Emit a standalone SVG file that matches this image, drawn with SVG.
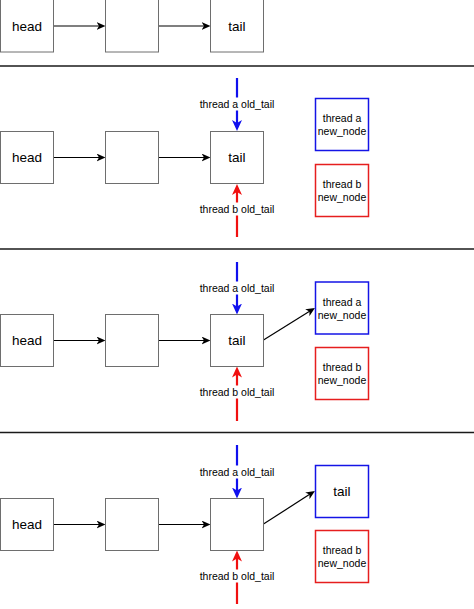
<svg xmlns="http://www.w3.org/2000/svg" width="474" height="609" viewBox="0 0 474 609">
<defs>
<style>
.box{fill:#fff;stroke:#6e6e6e;stroke-width:1}
.bbox{fill:#fff;stroke:#1414e6;stroke-width:1.5}
.rbox{fill:#fff;stroke:#e61e1e;stroke-width:1.5}
.sep{stroke:#1a1a1a;stroke-width:1.6}
.lk{stroke:#000;stroke-width:1.2;fill:none}
.lb{stroke:#1010ee;stroke-width:2.2;fill:none}
.lr{stroke:#f01010;stroke-width:2.2;fill:none}
.t{font-family:"Liberation Sans",Arial,sans-serif;font-size:13.5px;fill:#000;text-anchor:middle}
.s{font-family:"Liberation Sans",Arial,sans-serif;font-size:10.5px;fill:#000;text-anchor:middle}
.bg{fill:#fff}
</style>
<marker id="ak" markerUnits="userSpaceOnUse" markerWidth="10" markerHeight="8" refX="6" refY="4" orient="auto" viewBox="0 0 10 8">
<path d="M0,0 L9,4 L0,8 L2.5,4 z" fill="#000"/>
</marker>
<marker id="ab" markerUnits="userSpaceOnUse" markerWidth="11" markerHeight="10" refX="7" refY="5" orient="auto" viewBox="0 0 11 10">
<path d="M0,0 L11,5 L0,10 L3,5 z" fill="#1010ee"/>
</marker>
<marker id="ar" markerUnits="userSpaceOnUse" markerWidth="11" markerHeight="10" refX="7" refY="5" orient="auto" viewBox="0 0 11 10">
<path d="M0,0 L11,5 L0,10 L3,5 z" fill="#f01010"/>
</marker>
</defs>
<rect width="474" height="609" fill="#fff"/>

<g id="separators">
<line class="sep" x1="0" y1="66" x2="474" y2="66"/>
<line class="sep" x1="0" y1="249" x2="474" y2="249"/>
<line class="sep" x1="0" y1="432.5" x2="474" y2="432.5"/>
</g>

<g id="connectors">
<line class="lk" x1="53.5" y1="26" x2="102.5" y2="26" marker-end="url(#ak)"/>
<line class="lk" x1="158.5" y1="26" x2="207.5" y2="26" marker-end="url(#ak)"/>
<line class="lk" x1="53.5" y1="157.5" x2="102.5" y2="157.5" marker-end="url(#ak)"/>
<line class="lk" x1="158.5" y1="157.5" x2="207.5" y2="157.5" marker-end="url(#ak)"/>
<line class="lb" x1="237" y1="78" x2="237" y2="127" marker-end="url(#ab)"/>
<line class="lr" x1="237" y1="237" x2="237" y2="188" marker-end="url(#ar)"/>
<line class="lk" x1="53.5" y1="340.5" x2="102.5" y2="340.5" marker-end="url(#ak)"/>
<line class="lk" x1="158.5" y1="340.5" x2="207.5" y2="340.5" marker-end="url(#ak)"/>
<line class="lb" x1="237" y1="262" x2="237" y2="310.5" marker-end="url(#ab)"/>
<line class="lr" x1="237" y1="421" x2="237" y2="370.5" marker-end="url(#ar)"/>
<line class="lk" x1="263.5" y1="340" x2="312.4" y2="309.6" marker-end="url(#ak)"/>
<line class="lk" x1="53.5" y1="524.5" x2="102.5" y2="524.5" marker-end="url(#ak)"/>
<line class="lk" x1="158.5" y1="524.5" x2="207.5" y2="524.5" marker-end="url(#ak)"/>
<line class="lb" x1="237" y1="445" x2="237" y2="494.5" marker-end="url(#ab)"/>
<line class="lr" x1="237" y1="604" x2="237" y2="554.5" marker-end="url(#ar)"/>
<line class="lk" x1="263.5" y1="524" x2="312.4" y2="492.6" marker-end="url(#ak)"/>
</g>

<g id="labels">
<rect class="bg" x="196" y="97.5" width="82" height="13"/>
<text class="s" x="237" y="107.8">thread a old_tail</text>
<rect class="bg" x="196" y="202.5" width="82" height="13"/>
<text class="s" x="237" y="212.8">thread b old_tail</text>
<rect class="bg" x="196" y="281.5" width="82" height="13"/>
<text class="s" x="237" y="291.8">thread a old_tail</text>
<rect class="bg" x="196" y="385.5" width="82" height="13"/>
<text class="s" x="237" y="395.8">thread b old_tail</text>
<rect class="bg" x="196" y="465.5" width="82" height="13"/>
<text class="s" x="237" y="475.8">thread a old_tail</text>
<rect class="bg" x="196" y="569.5" width="82" height="13"/>
<text class="s" x="237" y="579.8">thread b old_tail</text>
</g>

<g id="s1-head"><rect class="box" x="0.5" y="-1" width="53" height="53"/><text class="t" x="27" y="30.5">head</text></g>
<g id="s1-mid"><rect class="box" x="105.5" y="-1" width="53" height="53"/></g>
<g id="s1-tail"><rect class="box" x="210.5" y="-1" width="53" height="53"/><text class="t" x="237" y="30.5">tail</text></g>

<g id="s2-head"><rect class="box" x="0.5" y="131.5" width="53" height="52"/><text class="t" x="27" y="162">head</text></g>
<g id="s2-mid"><rect class="box" x="105.5" y="131.5" width="53" height="52"/></g>
<g id="s2-tail"><rect class="box" x="210.5" y="131.5" width="53" height="52"/><text class="t" x="237" y="162">tail</text></g>
<g id="s2-a-new"><rect class="bbox" x="315.5" y="98.5" width="53" height="52"/><text class="s" x="342" y="122">thread a</text><text class="s" x="342" y="135">new_node</text></g>
<g id="s2-b-new"><rect class="rbox" x="315.5" y="164.5" width="53" height="52"/><text class="s" x="342" y="188">thread b</text><text class="s" x="342" y="201">new_node</text></g>

<g id="s3-head"><rect class="box" x="0.5" y="314.5" width="53" height="52"/><text class="t" x="27" y="345">head</text></g>
<g id="s3-mid"><rect class="box" x="105.5" y="314.5" width="53" height="52"/></g>
<g id="s3-tail"><rect class="box" x="210.5" y="314.5" width="53" height="52"/><text class="t" x="237" y="345">tail</text></g>
<g id="s3-a-new"><rect class="bbox" x="315.5" y="282" width="53" height="52"/><text class="s" x="342" y="305.5">thread a</text><text class="s" x="342" y="318.5">new_node</text></g>
<g id="s3-b-new"><rect class="rbox" x="315.5" y="347.5" width="53" height="52"/><text class="s" x="342" y="371">thread b</text><text class="s" x="342" y="384">new_node</text></g>

<g id="s4-head"><rect class="box" x="0.5" y="498.5" width="53" height="52"/><text class="t" x="27" y="529">head</text></g>
<g id="s4-mid"><rect class="box" x="105.5" y="498.5" width="53" height="52"/></g>
<g id="s4-old"><rect class="box" x="210.5" y="498.5" width="53" height="52"/></g>
<g id="s4-tail"><rect class="bbox" x="315.5" y="465.5" width="53" height="52"/><text class="t" x="342" y="496">tail</text></g>
<g id="s4-b-new"><rect class="rbox" x="315.5" y="530.5" width="53" height="52"/><text class="s" x="342" y="554">thread b</text><text class="s" x="342" y="567">new_node</text></g>
</svg>
